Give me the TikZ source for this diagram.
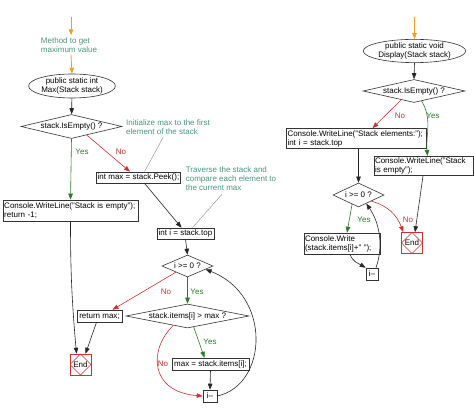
\documentclass[tikz,border=0pt]{standalone}
\usepackage{fontspec}
\setmainfont{Liberation Sans}
\usetikzlibrary{arrows.meta,shapes.geometric,calc}
\definecolor{notec}{HTML}{4A9580}
\definecolor{yesc}{HTML}{2A7A2A}
\definecolor{noc}{HTML}{D03030}
\definecolor{orangec}{HTML}{F0A020}
\begin{document}
\begin{tikzpicture}[x=1pt,y=-1pt,
  font=\fontsize{8}{9}\selectfont,
  box/.style={draw=black!80, line width=0.6pt, fill=white, inner sep=1.5pt, text=black},
  lbox/.style={box, align=left, inner xsep=1.2pt},
  ellip/.style={ellipse, draw=black!80, line width=0.6pt, inner sep=0pt, align=center},
  dia/.style={diamond, draw=black!80, line width=0.6pt, inner sep=0pt},
  note/.style={text=notec, align=left, inner sep=0pt},
  endbox/.style={draw=noc, line width=0.5pt, minimum width=21pt, minimum height=21pt, inner sep=0pt,
    path picture={\draw[noc, line width=0.5pt] (path picture bounding box.north) -- (path picture bounding box.east) -- (path picture bounding box.south) -- (path picture bounding box.west) -- cycle;}},
  conn/.style={draw=black!85, line width=0.6pt, -{Triangle[length=6pt,width=4.5pt]}},
  oconn/.style={draw=orangec, line width=0.8pt, -{Triangle[length=6pt,width=4.5pt]}},
  yconn/.style={draw=yesc, line width=0.6pt, -{Triangle[length=6pt,width=4.5pt]}},
  nconn/.style={draw=noc, line width=0.6pt, -{Triangle[length=6pt,width=4.5pt]}},
  nline/.style={draw=black!45, line width=0.4pt},
  yes/.style={text=yesc, inner sep=0pt},
  no/.style={text=noc, inner sep=0pt}]
\useasboundingbox (0,0) rectangle (474,411);

% ---------- left flowchart ----------
\coordinate (s1) at (71,17);
\node[note] (m1) at (69,45) {Method to get\\maximum value};
\node[ellip, minimum width=74pt, minimum height=24pt] (max) at (72,86) {public static int\\Max(Stack stack)};
\node[dia, shape aspect=4.2, minimum width=101pt, minimum height=24pt] (d1) at (71.5,126.5) {stack.IsEmpty() ?};
\node[note] (n1) at (168,127) {Initialize max to the first\\element of the stack};
\node[box, minimum width=83pt, minimum height=11pt] (peek) at (138.5,177.5) {int max = stack.Peek();};
\node[lbox, text width=132.5pt, minimum height=21pt] (empty1) at (70.5,210.5) {Console.WriteLine("Stack is empty");\\return -1;};
\node[note] (n2) at (231,179) {Traverse the stack and\\compare each element to\\the current max};
\node[box, minimum width=57pt, minimum height=11pt] (inti) at (185.5,233.5) {int i = stack.top};
\node[dia, shape aspect=2.3, minimum width=51pt, minimum height=22pt] (d2) at (187.5,266) {i >= 0 ?};
\node[box, minimum width=45pt, minimum height=12pt] (ret) at (99.5,316) {return max;};
\node[dia, shape aspect=5.1, minimum width=123pt, minimum height=24pt] (d3) at (187.5,316) {stack.items[i] > max ?};
\node[box, minimum width=77pt, minimum height=12pt] (mx) at (210.5,364) {max = stack.items[i];};
\node[box, minimum width=14pt, minimum height=12pt] (idec) at (210,396) {i--};
\node[endbox] (endL) at (80.5,364.5) {End};

\draw[oconn] (s1) -- ($(m1.north)+(2,-2)$);
\draw[oconn] ($(m1.south)+(2,2)$) -- (max.north);
\draw[conn] (max) -- (d1);
\draw[yconn] (d1.south) -- (empty1.north);
\node[yes] (y1) at (82,152) {Yes};
\draw[nconn] ($(d1.south)!0.3!(d1.east)$) -- ($(peek.north west)!0.4!(peek.north east)$);
\node[no] (no1) at (121,152) {No};
\draw[nline] ($(n1.south)+(-5,3)$) -- ($(peek.north)+(6,0)$);
\draw[conn] ($(peek.south)+(6,0)$) -- ($(inti.north)-(4,0)$);
\draw[nline] ($(n2.south)+(-9,3)$) -- ($(inti.north)+(7,0)$);
\draw[conn] (inti.south) -- (d2.north);
\draw[nconn] ($(d2.south)!0.45!(d2.west)$) -- ($(ret.north)+(13,0)$);
\node[no] (no2) at (166,292) {No};
\draw[yconn] (d2.south) -- (d3.north);
\node[yes] (y2) at (197,292) {Yes};
\draw[conn] ($(ret.south)-(3,0)$) -- ($(endL.north)+(5,0)$);
\draw[conn] (empty1.south) to[out=-90,in=95] ($(endL.north)-(4,0)$);
\draw[yconn] ($(d3.south)!0.1!(d3.east)$) -- ($(mx.north)-(6,0)$);
\node[yes] (y3) at (210,342) {Yes};
\draw[nconn] ($(d3.south)!0.23!(d3.west)$) .. controls (148,350) and (150,392) .. (idec.west);
\node[no] (no3) at (163,364) {No};
\draw[conn] (mx.south) -- (idec.north);
\draw[conn] (idec.east) .. controls (268,385) and (272,295) .. ($(d2.east)!0.3!(d2.south)$);

% ---------- right flowchart ----------
\coordinate (s2) at (414.5,17);
\node[ellip, minimum width=87pt, minimum height=22pt] (disp) at (414.5,51) {public static void\\Display(Stack stack)};
\node[dia, shape aspect=4.4, minimum width=102pt, minimum height=23pt] (d4) at (414,91) {stack.IsEmpty() ?};
\node[lbox, text width=138pt, minimum height=20pt] (se) at (356.5,138.5) {Console.WriteLine("Stack elements:");\\int i = stack.top};
\node[lbox, text width=97pt, minimum height=18pt] (ise) at (423.5,166) {Console.WriteLine("Stack\\is empty");};
\node[dia, shape aspect=2.1, minimum width=51pt, minimum height=24pt] (d5) at (358.5,195) {i >= 0 ?};
\node[lbox, text width=74pt, minimum height=21pt] (wr) at (342,243.5) {Console.Write\\(stack.items[i]+" ");};
\node[endbox] (endR) at (412,243) {End};
\node[box, minimum width=12pt, minimum height=12pt, inner sep=0.5pt] (idec2) at (372,274) {i--};

\draw[oconn] (s2) -- (disp.north);
\draw[conn] (disp.south) -- (d4.north);
\draw[nconn] ($(d4.south)!0.25!(d4.west)$) -- ($(se.north)+(16,0)$);
\node[no] (no4) at (400,116) {No};
\draw[yconn] ($(d4.south)!0.15!(d4.east)$) to[out=-60,in=95] ($(ise.north)+(4,0)$);
\node[yes] (y4) at (433,116) {Yes};
\draw[conn] ($(se.south)+(2,0)$) -- (d5.north);
\draw[yconn] ($(d5.south)!0.25!(d5.west)$) -- ($(wr.north)+(5,0)$);
\node[yes] (y5) at (364,220) {Yes};
\draw[nconn] ($(d5.south)!0.5!(d5.east)$) to[out=-15,in=110] ($(endR.north west)+(2,0)$);
\node[no] (no5) at (408,220) {No};
\draw[conn] ($(ise.south)-(0.5,0)$) -- ($(endR.north)+(3,0)$);
\draw[conn] ($(wr.south)+(8,0)$) to[out=-70,in=150] (idec2.north west);
\draw[conn] ($(idec2.north)+(4,0)$) .. controls (384,245) and (379,222) .. ($(d5.south)!0.3!(d5.east)$);
\end{tikzpicture}
\end{document}
